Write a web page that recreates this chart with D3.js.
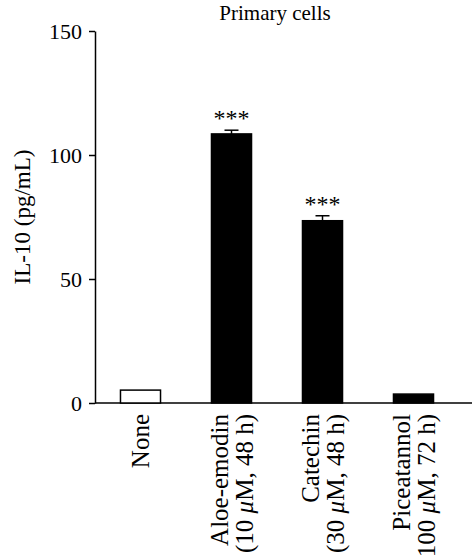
<!DOCTYPE html>
<html><head><meta charset="utf-8">
<script src="https://cdn.jsdelivr.net/npm/d3@7"></script>
<style>body{margin:0;background:#fff} text{font-family:"Liberation Serif","DejaVu Serif",serif}</style>
</head><body>
<svg id="chart" width="474" height="556"></svg>
<script>
const categories = ["None", "Aloe-emodin", "Catechin", "Piceatannol"]
const doses = [null, ["10 ", "μ", "M, 48 h)"], ["30 ", "μ", "M, 48 h)"], ["100 ", "μ", "M, 72 h)"]]
const values = [5.2, 108.5, 73.5, 3.6]
const errors = [0, 1.5, 2, 0]
const stars = ["", "***", "***", ""]
const yTicks = [0, 50, 100, 150]

let svg = d3.select("#chart")
let y = d3.scaleLinear().domain([0, 150]).range([403, 31])
let x = d3.scaleBand().domain(categories).range([95, 459]).paddingInner(0.56).paddingOuter(0.28)

svg.append("g").attr("transform", "translate(95,0)")
    .call(d3.axisLeft(y).tickValues(yTicks).tickSize(6).tickSizeOuter(0))
    .call(g => g.selectAll("text").style("font-size", "22px").style("font-family", "Liberation Serif").attr("dx", "-4"))
    .call(g => g.selectAll("path,line").attr("stroke", "#000").attr("stroke-width", 1.5))

svg.append("line").attr("x1", 95).attr("x2", 472).attr("y1", 403).attr("y2", 403)
    .attr("stroke", "#000").attr("stroke-width", 1.5)

svg.selectAll("rect.bar").data(values).enter().append("rect")
    .attr("x", (d, i) => x(categories[i]))
    .attr("y", d => y(d))
    .attr("width", x.bandwidth())
    .attr("height", d => 403 - y(d))
    .attr("fill", (d, i) => i == 0 ? "#fff" : "#000")
    .attr("stroke", "#000").attr("stroke-width", 1.5)

values.forEach((v, i) => {
    if (!errors[i]) return
    let cx = x(categories[i]) + x.bandwidth() / 2
    svg.append("line").attr("x1", cx).attr("x2", cx).attr("y1", y(v)).attr("y2", y(v + errors[i])).attr("stroke", "#000").attr("stroke-width", 1.5)
    svg.append("line").attr("x1", cx - 7).attr("x2", cx + 7).attr("y1", y(v + errors[i])).attr("y2", y(v + errors[i])).attr("stroke", "#000").attr("stroke-width", 1.5)
    svg.append("text").attr("x", cx).attr("y", y(v + errors[i]) - 4).attr("text-anchor", "middle")
        .style("font-size", "24px").text(stars[i])
})

categories.forEach((c, i) => {
    let cx = x(c) + x.bandwidth() / 2
    let g = svg.append("g").attr("transform", `translate(${cx},414) rotate(-90)`)
    if (!doses[i]) {
        g.append("text").attr("y", 8).attr("text-anchor", "end").style("font-size", "25px").text(c)
    } else {
        g.append("text").attr("y", -4).attr("text-anchor", "end").style("font-size", "25px").text(c)
        let t = g.append("text").attr("y", 21).attr("text-anchor", "end").style("font-size", "25px")
        t.append("tspan").text("(" + doses[i][0])
        t.append("tspan").style("font-style", "italic").text(doses[i][1])
        t.append("tspan").text(doses[i][2])
    }
})

svg.append("text").attr("transform", "translate(30,217) rotate(-90)").attr("text-anchor", "middle")
    .style("font-size", "23px").text("IL-10 (pg/mL)")
svg.append("text").attr("x", 275).attr("y", 20).attr("text-anchor", "middle")
    .style("font-size", "21px").text("Primary cells")
</script>
</body></html>
